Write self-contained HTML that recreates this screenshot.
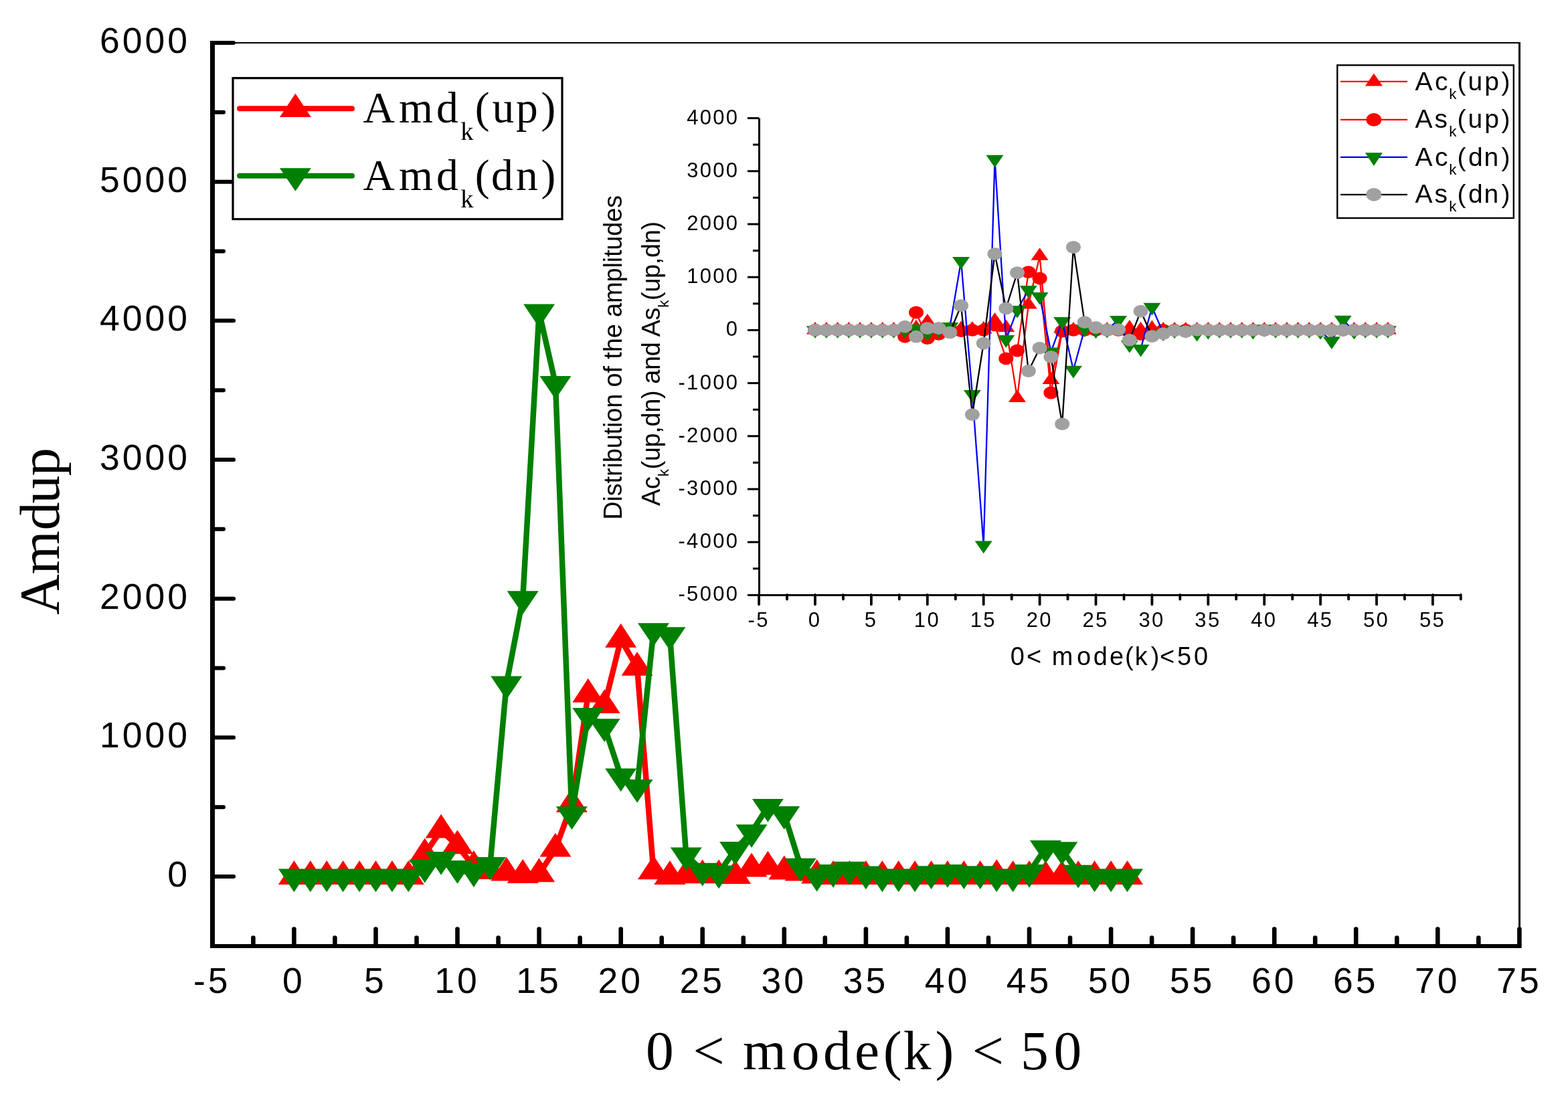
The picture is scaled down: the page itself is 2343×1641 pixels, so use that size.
<!DOCTYPE html>
<html><head><meta charset="utf-8"><title>Amdup plot</title><style>html,body{margin:0;padding:0;background:#fff;overflow:hidden}svg{display:block}</style></head><body>
<svg width="2343" height="1641" viewBox="0 0 2343 1641">
<rect width="2343" height="1641" fill="#fff"/>
<line x1="317" y1="64" x2="2271" y2="64" stroke="#000" stroke-width="2"/>
<line x1="2270.5" y1="63" x2="2270.5" y2="1414" stroke="#000" stroke-width="3"/>
<line x1="318" y1="1310.0" x2="349" y2="1310.0" stroke="#000" stroke-width="6" stroke-linecap="round"/>
<line x1="318" y1="1102.3" x2="349" y2="1102.3" stroke="#000" stroke-width="6" stroke-linecap="round"/>
<line x1="318" y1="894.7" x2="349" y2="894.7" stroke="#000" stroke-width="6" stroke-linecap="round"/>
<line x1="318" y1="687.0" x2="349" y2="687.0" stroke="#000" stroke-width="6" stroke-linecap="round"/>
<line x1="318" y1="479.3" x2="349" y2="479.3" stroke="#000" stroke-width="6" stroke-linecap="round"/>
<line x1="318" y1="271.7" x2="349" y2="271.7" stroke="#000" stroke-width="6" stroke-linecap="round"/>
<line x1="318" y1="64.0" x2="349" y2="64.0" stroke="#000" stroke-width="6" stroke-linecap="round"/>
<line x1="318" y1="1206.2" x2="334" y2="1206.2" stroke="#000" stroke-width="6" stroke-linecap="round"/>
<line x1="318" y1="998.5" x2="334" y2="998.5" stroke="#000" stroke-width="6" stroke-linecap="round"/>
<line x1="318" y1="790.8" x2="334" y2="790.8" stroke="#000" stroke-width="6" stroke-linecap="round"/>
<line x1="318" y1="583.2" x2="334" y2="583.2" stroke="#000" stroke-width="6" stroke-linecap="round"/>
<line x1="318" y1="375.5" x2="334" y2="375.5" stroke="#000" stroke-width="6" stroke-linecap="round"/>
<line x1="318" y1="167.8" x2="334" y2="167.8" stroke="#000" stroke-width="6" stroke-linecap="round"/>
<line x1="317.3" y1="1412" x2="317.3" y2="1388.5" stroke="#000" stroke-width="6.6" stroke-linecap="round"/>
<line x1="439.4" y1="1412" x2="439.4" y2="1388.5" stroke="#000" stroke-width="6.6" stroke-linecap="round"/>
<line x1="561.5" y1="1412" x2="561.5" y2="1388.5" stroke="#000" stroke-width="6.6" stroke-linecap="round"/>
<line x1="683.5" y1="1412" x2="683.5" y2="1388.5" stroke="#000" stroke-width="6.6" stroke-linecap="round"/>
<line x1="805.6" y1="1412" x2="805.6" y2="1388.5" stroke="#000" stroke-width="6.6" stroke-linecap="round"/>
<line x1="927.7" y1="1412" x2="927.7" y2="1388.5" stroke="#000" stroke-width="6.6" stroke-linecap="round"/>
<line x1="1049.7" y1="1412" x2="1049.7" y2="1388.5" stroke="#000" stroke-width="6.6" stroke-linecap="round"/>
<line x1="1171.8" y1="1412" x2="1171.8" y2="1388.5" stroke="#000" stroke-width="6.6" stroke-linecap="round"/>
<line x1="1293.9" y1="1412" x2="1293.9" y2="1388.5" stroke="#000" stroke-width="6.6" stroke-linecap="round"/>
<line x1="1415.9" y1="1412" x2="1415.9" y2="1388.5" stroke="#000" stroke-width="6.6" stroke-linecap="round"/>
<line x1="1538.0" y1="1412" x2="1538.0" y2="1388.5" stroke="#000" stroke-width="6.6" stroke-linecap="round"/>
<line x1="1660.1" y1="1412" x2="1660.1" y2="1388.5" stroke="#000" stroke-width="6.6" stroke-linecap="round"/>
<line x1="1782.1" y1="1412" x2="1782.1" y2="1388.5" stroke="#000" stroke-width="6.6" stroke-linecap="round"/>
<line x1="1904.2" y1="1412" x2="1904.2" y2="1388.5" stroke="#000" stroke-width="6.6" stroke-linecap="round"/>
<line x1="2026.2" y1="1412" x2="2026.2" y2="1388.5" stroke="#000" stroke-width="6.6" stroke-linecap="round"/>
<line x1="2148.3" y1="1412" x2="2148.3" y2="1388.5" stroke="#000" stroke-width="6.6" stroke-linecap="round"/>
<line x1="2270.4" y1="1412" x2="2270.4" y2="1388.5" stroke="#000" stroke-width="6.6" stroke-linecap="round"/>
<line x1="378.4" y1="1412" x2="378.4" y2="1401.5" stroke="#000" stroke-width="6.6" stroke-linecap="round"/>
<line x1="500.4" y1="1412" x2="500.4" y2="1401.5" stroke="#000" stroke-width="6.6" stroke-linecap="round"/>
<line x1="622.5" y1="1412" x2="622.5" y2="1401.5" stroke="#000" stroke-width="6.6" stroke-linecap="round"/>
<line x1="744.6" y1="1412" x2="744.6" y2="1401.5" stroke="#000" stroke-width="6.6" stroke-linecap="round"/>
<line x1="866.6" y1="1412" x2="866.6" y2="1401.5" stroke="#000" stroke-width="6.6" stroke-linecap="round"/>
<line x1="988.7" y1="1412" x2="988.7" y2="1401.5" stroke="#000" stroke-width="6.6" stroke-linecap="round"/>
<line x1="1110.8" y1="1412" x2="1110.8" y2="1401.5" stroke="#000" stroke-width="6.6" stroke-linecap="round"/>
<line x1="1232.8" y1="1412" x2="1232.8" y2="1401.5" stroke="#000" stroke-width="6.6" stroke-linecap="round"/>
<line x1="1354.9" y1="1412" x2="1354.9" y2="1401.5" stroke="#000" stroke-width="6.6" stroke-linecap="round"/>
<line x1="1477.0" y1="1412" x2="1477.0" y2="1401.5" stroke="#000" stroke-width="6.6" stroke-linecap="round"/>
<line x1="1599.0" y1="1412" x2="1599.0" y2="1401.5" stroke="#000" stroke-width="6.6" stroke-linecap="round"/>
<line x1="1721.1" y1="1412" x2="1721.1" y2="1401.5" stroke="#000" stroke-width="6.6" stroke-linecap="round"/>
<line x1="1843.1" y1="1412" x2="1843.1" y2="1401.5" stroke="#000" stroke-width="6.6" stroke-linecap="round"/>
<line x1="1965.2" y1="1412" x2="1965.2" y2="1401.5" stroke="#000" stroke-width="6.6" stroke-linecap="round"/>
<line x1="2087.3" y1="1412" x2="2087.3" y2="1401.5" stroke="#000" stroke-width="6.6" stroke-linecap="round"/>
<line x1="2209.3" y1="1412" x2="2209.3" y2="1401.5" stroke="#000" stroke-width="6.6" stroke-linecap="round"/>
<line x1="317.5" y1="61" x2="317.5" y2="1417" stroke="#000" stroke-width="7"/>
<line x1="314" y1="1414" x2="2273.6" y2="1414" stroke="#000" stroke-width="6"/>
<text x="284" y="1324.9" text-anchor="end" font-family="'Liberation Sans', Arial, sans-serif" font-size="53.5" letter-spacing="4">0</text>
<text x="284" y="1117.2" text-anchor="end" font-family="'Liberation Sans', Arial, sans-serif" font-size="53.5" letter-spacing="4">1000</text>
<text x="284" y="909.6" text-anchor="end" font-family="'Liberation Sans', Arial, sans-serif" font-size="53.5" letter-spacing="4">2000</text>
<text x="284" y="701.9" text-anchor="end" font-family="'Liberation Sans', Arial, sans-serif" font-size="53.5" letter-spacing="4">3000</text>
<text x="284" y="494.2" text-anchor="end" font-family="'Liberation Sans', Arial, sans-serif" font-size="53.5" letter-spacing="4">4000</text>
<text x="284" y="286.6" text-anchor="end" font-family="'Liberation Sans', Arial, sans-serif" font-size="53.5" letter-spacing="4">5000</text>
<text x="284" y="78.9" text-anchor="end" font-family="'Liberation Sans', Arial, sans-serif" font-size="53.5" letter-spacing="4">6000</text>
<text x="316.8" y="1484" text-anchor="middle" font-family="'Liberation Sans', Arial, sans-serif" font-size="53.5" letter-spacing="4">-5</text>
<text x="438.9" y="1484" text-anchor="middle" font-family="'Liberation Sans', Arial, sans-serif" font-size="53.5" letter-spacing="4">0</text>
<text x="561.0" y="1484" text-anchor="middle" font-family="'Liberation Sans', Arial, sans-serif" font-size="53.5" letter-spacing="4">5</text>
<text x="683.0" y="1484" text-anchor="middle" font-family="'Liberation Sans', Arial, sans-serif" font-size="53.5" letter-spacing="4">10</text>
<text x="805.1" y="1484" text-anchor="middle" font-family="'Liberation Sans', Arial, sans-serif" font-size="53.5" letter-spacing="4">15</text>
<text x="927.2" y="1484" text-anchor="middle" font-family="'Liberation Sans', Arial, sans-serif" font-size="53.5" letter-spacing="4">20</text>
<text x="1049.2" y="1484" text-anchor="middle" font-family="'Liberation Sans', Arial, sans-serif" font-size="53.5" letter-spacing="4">25</text>
<text x="1171.3" y="1484" text-anchor="middle" font-family="'Liberation Sans', Arial, sans-serif" font-size="53.5" letter-spacing="4">30</text>
<text x="1293.4" y="1484" text-anchor="middle" font-family="'Liberation Sans', Arial, sans-serif" font-size="53.5" letter-spacing="4">35</text>
<text x="1415.4" y="1484" text-anchor="middle" font-family="'Liberation Sans', Arial, sans-serif" font-size="53.5" letter-spacing="4">40</text>
<text x="1537.5" y="1484" text-anchor="middle" font-family="'Liberation Sans', Arial, sans-serif" font-size="53.5" letter-spacing="4">45</text>
<text x="1659.6" y="1484" text-anchor="middle" font-family="'Liberation Sans', Arial, sans-serif" font-size="53.5" letter-spacing="4">50</text>
<text x="1781.6" y="1484" text-anchor="middle" font-family="'Liberation Sans', Arial, sans-serif" font-size="53.5" letter-spacing="4">55</text>
<text x="1903.7" y="1484" text-anchor="middle" font-family="'Liberation Sans', Arial, sans-serif" font-size="53.5" letter-spacing="4">60</text>
<text x="2025.7" y="1484" text-anchor="middle" font-family="'Liberation Sans', Arial, sans-serif" font-size="53.5" letter-spacing="4">65</text>
<text x="2147.8" y="1484" text-anchor="middle" font-family="'Liberation Sans', Arial, sans-serif" font-size="53.5" letter-spacing="4">70</text>
<text x="2269.9" y="1484" text-anchor="middle" font-family="'Liberation Sans', Arial, sans-serif" font-size="53.5" letter-spacing="4">75</text>
<text x="965.1 1006.9 1035.4 1082.5 1110.0 1182.8 1229.9 1276.9 1319.7 1349.7 1397.6 1425.4 1452.7 1499.8 1525.1 1574.5" y="1598.2" font-family="'Liberation Serif', 'Times New Roman', serif" font-size="83.5">0 &lt; mode(k) &lt; 50</text>
<text transform="translate(88.3,916.3) rotate(-90)" x="-2.4 57.7 123.7 163.9 205.0" y="0" font-family="'Liberation Serif', 'Times New Roman', serif" font-size="84">Amdup</text>
<polyline points="439.4,1310.0 463.8,1310.0 488.2,1310.0 512.6,1310.0 537.1,1310.0 561.5,1310.0 585.9,1310.0 610.3,1310.0 634.7,1276.6 659.1,1240.6 683.5,1264.3 707.9,1294.8 732.4,1301.9 756.8,1304.6 781.2,1307.9 805.6,1306.3 830.0,1268.7 854.4,1202.0 878.8,1037.7 903.2,1054.2 927.7,955.7 952.1,997.9 976.5,1302.3 1000.9,1310.0 1025.3,1308.3 1049.7,1308.3 1074.1,1308.3 1098.6,1309.0 1123.0,1298.6 1147.4,1295.7 1171.8,1302.5 1196.2,1304.6 1220.6,1308.5 1245.0,1310.0 1269.4,1310.0 1293.9,1310.0 1318.3,1310.0 1342.7,1310.0 1367.1,1310.0 1391.5,1310.0 1415.9,1310.0 1440.3,1310.0 1464.7,1310.0 1489.2,1308.1 1513.6,1310.0 1538.0,1310.0 1562.4,1310.0 1586.8,1310.0 1611.2,1310.0 1635.6,1310.0 1660.1,1310.0 1684.5,1310.0" fill="none" stroke="#ff0000" stroke-width="8.5" stroke-linejoin="round"/>
<path fill="#ff0000" d="M439.4,1286.1L462.9,1322.0L415.9,1322.0ZM463.8,1286.1L487.3,1322.0L440.3,1322.0ZM488.2,1286.1L511.7,1322.0L464.7,1322.0ZM512.6,1286.1L536.1,1322.0L489.1,1322.0ZM537.1,1286.1L560.6,1322.0L513.6,1322.0ZM561.5,1286.1L585.0,1322.0L538.0,1322.0ZM585.9,1286.1L609.4,1322.0L562.4,1322.0ZM610.3,1286.1L633.8,1322.0L586.8,1322.0ZM634.7,1252.6L658.2,1288.5L611.2,1288.5ZM659.1,1216.7L682.6,1252.6L635.6,1252.6ZM683.5,1240.4L707.0,1276.3L660.0,1276.3ZM707.9,1270.9L731.4,1306.8L684.4,1306.8ZM732.4,1278.0L755.9,1313.9L708.9,1313.9ZM756.8,1280.7L780.3,1316.6L733.3,1316.6ZM781.2,1284.0L804.7,1319.9L757.7,1319.9ZM805.6,1282.3L829.1,1318.2L782.1,1318.2ZM830.0,1244.7L853.5,1280.6L806.5,1280.6ZM854.4,1178.1L877.9,1214.0L830.9,1214.0ZM878.8,1013.8L902.3,1049.7L855.3,1049.7ZM903.2,1030.2L926.7,1066.1L879.7,1066.1ZM927.7,931.8L951.2,967.7L904.2,967.7ZM952.1,973.9L975.6,1009.8L928.6,1009.8ZM976.5,1278.4L1000.0,1314.3L953.0,1314.3ZM1000.9,1286.1L1024.4,1322.0L977.4,1322.0ZM1025.3,1284.4L1048.8,1320.3L1001.8,1320.3ZM1049.7,1284.4L1073.2,1320.3L1026.2,1320.3ZM1074.1,1284.4L1097.6,1320.3L1050.6,1320.3ZM1098.6,1285.0L1122.1,1320.9L1075.1,1320.9ZM1123.0,1274.6L1146.5,1310.5L1099.5,1310.5ZM1147.4,1271.7L1170.9,1307.6L1123.9,1307.6ZM1171.8,1278.6L1195.3,1314.5L1148.3,1314.5ZM1196.2,1280.7L1219.7,1316.6L1172.7,1316.6ZM1220.6,1284.6L1244.1,1320.5L1197.1,1320.5ZM1245.0,1286.1L1268.5,1322.0L1221.5,1322.0ZM1269.4,1286.1L1292.9,1322.0L1245.9,1322.0ZM1293.9,1286.1L1317.4,1322.0L1270.4,1322.0ZM1318.3,1286.1L1341.8,1322.0L1294.8,1322.0ZM1342.7,1286.1L1366.2,1322.0L1319.2,1322.0ZM1367.1,1286.1L1390.6,1322.0L1343.6,1322.0ZM1391.5,1286.1L1415.0,1322.0L1368.0,1322.0ZM1415.9,1286.1L1439.4,1322.0L1392.4,1322.0ZM1440.3,1286.1L1463.8,1322.0L1416.8,1322.0ZM1464.7,1286.1L1488.2,1322.0L1441.2,1322.0ZM1489.2,1284.2L1512.7,1320.1L1465.7,1320.1ZM1513.6,1286.1L1537.1,1322.0L1490.1,1322.0ZM1538.0,1286.1L1561.5,1322.0L1514.5,1322.0ZM1562.4,1286.1L1585.9,1322.0L1538.9,1322.0ZM1586.8,1286.1L1610.3,1322.0L1563.3,1322.0ZM1611.2,1286.1L1634.7,1322.0L1587.7,1322.0ZM1635.6,1286.1L1659.1,1322.0L1612.1,1322.0ZM1660.1,1286.1L1683.6,1322.0L1636.6,1322.0ZM1684.5,1286.1L1708.0,1322.0L1661.0,1322.0Z"/>
<polyline points="439.4,1310.0 463.8,1310.0 488.2,1310.0 512.6,1310.0 537.1,1310.0 561.5,1310.0 585.9,1310.0 610.3,1310.0 634.7,1296.3 659.1,1284.5 683.5,1297.5 707.9,1302.7 732.4,1292.6 756.8,1022.2 781.2,894.9 805.6,466.2 830.0,573.6 854.4,1216.8 878.8,1069.7 903.2,1085.9 927.7,1160.1 952.1,1176.5 976.5,942.8 1000.9,948.9 1025.3,1278.0 1049.7,1301.3 1074.1,1305.0 1098.6,1269.7 1123.0,1243.8 1147.4,1205.5 1171.8,1216.5 1196.2,1294.4 1220.6,1309.4 1245.0,1303.6 1269.4,1299.4 1293.9,1306.1 1318.3,1310.0 1342.7,1310.0 1367.1,1310.0 1391.5,1305.8 1415.9,1303.6 1440.3,1305.8 1464.7,1305.8 1489.2,1310.0 1513.6,1310.0 1538.0,1303.6 1562.4,1267.6 1586.8,1269.9 1611.2,1304.4 1635.6,1310.0 1660.1,1310.0 1684.5,1310.0" fill="none" stroke="#008000" stroke-width="8.5" stroke-linejoin="round"/>
<path fill="#008000" d="M415.9,1298.4L462.9,1298.4L439.4,1333.2ZM440.3,1298.4L487.3,1298.4L463.8,1333.2ZM464.7,1298.4L511.7,1298.4L488.2,1333.2ZM489.1,1298.4L536.1,1298.4L512.6,1333.2ZM513.6,1298.4L560.6,1298.4L537.1,1333.2ZM538.0,1298.4L585.0,1298.4L561.5,1333.2ZM562.4,1298.4L609.4,1298.4L585.9,1333.2ZM586.8,1298.4L633.8,1298.4L610.3,1333.2ZM611.2,1284.7L658.2,1284.7L634.7,1319.5ZM635.6,1272.9L682.6,1272.9L659.1,1307.7ZM660.0,1285.9L707.0,1285.9L683.5,1320.7ZM684.4,1291.1L731.4,1291.1L707.9,1325.9ZM708.9,1281.0L755.9,1281.0L732.4,1315.8ZM733.3,1010.6L780.3,1010.6L756.8,1045.4ZM757.7,883.3L804.7,883.3L781.2,918.1ZM782.1,454.6L829.1,454.6L805.6,489.4ZM806.5,562.0L853.5,562.0L830.0,596.8ZM830.9,1205.2L877.9,1205.2L854.4,1240.0ZM855.3,1058.1L902.3,1058.1L878.8,1092.9ZM879.7,1074.3L926.7,1074.3L903.2,1109.1ZM904.2,1148.5L951.2,1148.5L927.7,1183.3ZM928.6,1164.9L975.6,1164.9L952.1,1199.7ZM953.0,931.2L1000.0,931.2L976.5,966.0ZM977.4,937.3L1024.4,937.3L1000.9,972.1ZM1001.8,1266.4L1048.8,1266.4L1025.3,1301.2ZM1026.2,1289.7L1073.2,1289.7L1049.7,1324.5ZM1050.6,1293.4L1097.6,1293.4L1074.1,1328.2ZM1075.1,1258.1L1122.1,1258.1L1098.6,1292.9ZM1099.5,1232.2L1146.5,1232.2L1123.0,1267.0ZM1123.9,1193.9L1170.9,1193.9L1147.4,1228.7ZM1148.3,1204.9L1195.3,1204.9L1171.8,1239.7ZM1172.7,1282.8L1219.7,1282.8L1196.2,1317.6ZM1197.1,1297.8L1244.1,1297.8L1220.6,1332.6ZM1221.5,1292.0L1268.5,1292.0L1245.0,1326.8ZM1245.9,1287.8L1292.9,1287.8L1269.4,1322.6ZM1270.4,1294.5L1317.4,1294.5L1293.9,1329.3ZM1294.8,1298.4L1341.8,1298.4L1318.3,1333.2ZM1319.2,1298.4L1366.2,1298.4L1342.7,1333.2ZM1343.6,1298.4L1390.6,1298.4L1367.1,1333.2ZM1368.0,1294.2L1415.0,1294.2L1391.5,1329.0ZM1392.4,1292.0L1439.4,1292.0L1415.9,1326.8ZM1416.8,1294.2L1463.8,1294.2L1440.3,1329.0ZM1441.2,1294.2L1488.2,1294.2L1464.7,1329.0ZM1465.7,1298.4L1512.7,1298.4L1489.2,1333.2ZM1490.1,1298.4L1537.1,1298.4L1513.6,1333.2ZM1514.5,1292.0L1561.5,1292.0L1538.0,1326.8ZM1538.9,1256.0L1585.9,1256.0L1562.4,1290.8ZM1563.3,1258.3L1610.3,1258.3L1586.8,1293.1ZM1587.7,1292.8L1634.7,1292.8L1611.2,1327.6ZM1612.1,1298.4L1659.1,1298.4L1635.6,1333.2ZM1636.6,1298.4L1683.6,1298.4L1660.1,1333.2ZM1661.0,1298.4L1708.0,1298.4L1684.5,1333.2Z"/>
<rect x="348" y="116.7" width="492" height="210.8" fill="#fff" stroke="#000" stroke-width="3.2"/>
<line x1="358" y1="162.3" x2="526" y2="162.3" stroke="#ff0000" stroke-width="8" stroke-linecap="round"/>
<path fill="#ff0000" d="M441.4,139.7L464.9,175.0L417.9,175.0Z"/>
<line x1="358" y1="262.7" x2="526" y2="262.7" stroke="#008000" stroke-width="8" stroke-linecap="round"/>
<path fill="#008000" d="M417.9,251.2L464.9,251.2L441.4,285.8Z"/>
<text y="183.3" font-family="'Liberation Serif', 'Times New Roman', serif" font-size="65.5"><tspan x="542.6 595.9 652.1">Amd</tspan><tspan x="688.3" y="209.0" font-size="38.5">k</tspan><tspan x="709.7 735.4 771.1 808.6" y="183.3">(up)</tspan></text>
<text y="283.8" font-family="'Liberation Serif', 'Times New Roman', serif" font-size="65.5"><tspan x="542.6 595.9 652.1">Amd</tspan><tspan x="688.3" y="309.5" font-size="38.5">k</tspan><tspan x="709.7 734.1 770.9 808.6" y="283.8">(dn)</tspan></text>
<line x1="1117" y1="889.4" x2="1134" y2="889.4" stroke="#000" stroke-width="3"/>
<line x1="1117" y1="810.2" x2="1134" y2="810.2" stroke="#000" stroke-width="3"/>
<line x1="1117" y1="731.0" x2="1134" y2="731.0" stroke="#000" stroke-width="3"/>
<line x1="1117" y1="651.8" x2="1134" y2="651.8" stroke="#000" stroke-width="3"/>
<line x1="1117" y1="572.6" x2="1134" y2="572.6" stroke="#000" stroke-width="3"/>
<line x1="1117" y1="493.4" x2="1134" y2="493.4" stroke="#000" stroke-width="3"/>
<line x1="1117" y1="414.2" x2="1134" y2="414.2" stroke="#000" stroke-width="3"/>
<line x1="1117" y1="335.0" x2="1134" y2="335.0" stroke="#000" stroke-width="3"/>
<line x1="1117" y1="255.8" x2="1134" y2="255.8" stroke="#000" stroke-width="3"/>
<line x1="1117" y1="176.6" x2="1134" y2="176.6" stroke="#000" stroke-width="3"/>
<line x1="1125" y1="849.8" x2="1134" y2="849.8" stroke="#000" stroke-width="3"/>
<line x1="1125" y1="770.6" x2="1134" y2="770.6" stroke="#000" stroke-width="3"/>
<line x1="1125" y1="691.4" x2="1134" y2="691.4" stroke="#000" stroke-width="3"/>
<line x1="1125" y1="612.2" x2="1134" y2="612.2" stroke="#000" stroke-width="3"/>
<line x1="1125" y1="533.0" x2="1134" y2="533.0" stroke="#000" stroke-width="3"/>
<line x1="1125" y1="453.8" x2="1134" y2="453.8" stroke="#000" stroke-width="3"/>
<line x1="1125" y1="374.6" x2="1134" y2="374.6" stroke="#000" stroke-width="3"/>
<line x1="1125" y1="295.4" x2="1134" y2="295.4" stroke="#000" stroke-width="3"/>
<line x1="1125" y1="216.2" x2="1134" y2="216.2" stroke="#000" stroke-width="3"/>
<line x1="1134.1" y1="889" x2="1134.1" y2="903.3" stroke="#000" stroke-width="3.8" stroke-linecap="round"/>
<line x1="1218.0" y1="889" x2="1218.0" y2="903.3" stroke="#000" stroke-width="3.8" stroke-linecap="round"/>
<line x1="1301.9" y1="889" x2="1301.9" y2="903.3" stroke="#000" stroke-width="3.8" stroke-linecap="round"/>
<line x1="1385.8" y1="889" x2="1385.8" y2="903.3" stroke="#000" stroke-width="3.8" stroke-linecap="round"/>
<line x1="1469.7" y1="889" x2="1469.7" y2="903.3" stroke="#000" stroke-width="3.8" stroke-linecap="round"/>
<line x1="1553.6" y1="889" x2="1553.6" y2="903.3" stroke="#000" stroke-width="3.8" stroke-linecap="round"/>
<line x1="1637.5" y1="889" x2="1637.5" y2="903.3" stroke="#000" stroke-width="3.8" stroke-linecap="round"/>
<line x1="1721.4" y1="889" x2="1721.4" y2="903.3" stroke="#000" stroke-width="3.8" stroke-linecap="round"/>
<line x1="1805.3" y1="889" x2="1805.3" y2="903.3" stroke="#000" stroke-width="3.8" stroke-linecap="round"/>
<line x1="1889.2" y1="889" x2="1889.2" y2="903.3" stroke="#000" stroke-width="3.8" stroke-linecap="round"/>
<line x1="1973.1" y1="889" x2="1973.1" y2="903.3" stroke="#000" stroke-width="3.8" stroke-linecap="round"/>
<line x1="2057.0" y1="889" x2="2057.0" y2="903.3" stroke="#000" stroke-width="3.8" stroke-linecap="round"/>
<line x1="2140.9" y1="889" x2="2140.9" y2="903.3" stroke="#000" stroke-width="3.8" stroke-linecap="round"/>
<line x1="1176.0" y1="889" x2="1176.0" y2="895.5" stroke="#000" stroke-width="3.8" stroke-linecap="round"/>
<line x1="1260.0" y1="889" x2="1260.0" y2="895.5" stroke="#000" stroke-width="3.8" stroke-linecap="round"/>
<line x1="1343.8" y1="889" x2="1343.8" y2="895.5" stroke="#000" stroke-width="3.8" stroke-linecap="round"/>
<line x1="1427.8" y1="889" x2="1427.8" y2="895.5" stroke="#000" stroke-width="3.8" stroke-linecap="round"/>
<line x1="1511.7" y1="889" x2="1511.7" y2="895.5" stroke="#000" stroke-width="3.8" stroke-linecap="round"/>
<line x1="1595.5" y1="889" x2="1595.5" y2="895.5" stroke="#000" stroke-width="3.8" stroke-linecap="round"/>
<line x1="1679.5" y1="889" x2="1679.5" y2="895.5" stroke="#000" stroke-width="3.8" stroke-linecap="round"/>
<line x1="1763.3" y1="889" x2="1763.3" y2="895.5" stroke="#000" stroke-width="3.8" stroke-linecap="round"/>
<line x1="1847.2" y1="889" x2="1847.2" y2="895.5" stroke="#000" stroke-width="3.8" stroke-linecap="round"/>
<line x1="1931.2" y1="889" x2="1931.2" y2="895.5" stroke="#000" stroke-width="3.8" stroke-linecap="round"/>
<line x1="2015.1" y1="889" x2="2015.1" y2="895.5" stroke="#000" stroke-width="3.8" stroke-linecap="round"/>
<line x1="2098.9" y1="889" x2="2098.9" y2="895.5" stroke="#000" stroke-width="3.8" stroke-linecap="round"/>
<line x1="2182.8" y1="889" x2="2182.8" y2="895.5" stroke="#000" stroke-width="3.8" stroke-linecap="round"/>
<line x1="1134.5" y1="176.6" x2="1134.5" y2="891" stroke="#000" stroke-width="3"/>
<line x1="1133" y1="889.5" x2="2183.8" y2="889.6" stroke="#000" stroke-width="3"/>
<text x="1104.3" y="898.4" text-anchor="end" font-family="'Liberation Sans', Arial, sans-serif" font-size="31" letter-spacing="2.3">-5000</text>
<text x="1104.3" y="819.2" text-anchor="end" font-family="'Liberation Sans', Arial, sans-serif" font-size="31" letter-spacing="2.3">-4000</text>
<text x="1104.3" y="740.0" text-anchor="end" font-family="'Liberation Sans', Arial, sans-serif" font-size="31" letter-spacing="2.3">-3000</text>
<text x="1104.3" y="660.8" text-anchor="end" font-family="'Liberation Sans', Arial, sans-serif" font-size="31" letter-spacing="2.3">-2000</text>
<text x="1104.3" y="581.6" text-anchor="end" font-family="'Liberation Sans', Arial, sans-serif" font-size="31" letter-spacing="2.3">-1000</text>
<text x="1104.3" y="502.4" text-anchor="end" font-family="'Liberation Sans', Arial, sans-serif" font-size="31" letter-spacing="2.3">0</text>
<text x="1104.3" y="423.2" text-anchor="end" font-family="'Liberation Sans', Arial, sans-serif" font-size="31" letter-spacing="2.3">1000</text>
<text x="1104.3" y="344.0" text-anchor="end" font-family="'Liberation Sans', Arial, sans-serif" font-size="31" letter-spacing="2.3">2000</text>
<text x="1104.3" y="264.8" text-anchor="end" font-family="'Liberation Sans', Arial, sans-serif" font-size="31" letter-spacing="2.3">3000</text>
<text x="1104.3" y="185.6" text-anchor="end" font-family="'Liberation Sans', Arial, sans-serif" font-size="31" letter-spacing="2.3">4000</text>
<text x="1133.7" y="936.5" text-anchor="middle" font-family="'Liberation Sans', Arial, sans-serif" font-size="31" letter-spacing="2.3">-5</text>
<text x="1217.6" y="936.5" text-anchor="middle" font-family="'Liberation Sans', Arial, sans-serif" font-size="31" letter-spacing="2.3">0</text>
<text x="1301.5" y="936.5" text-anchor="middle" font-family="'Liberation Sans', Arial, sans-serif" font-size="31" letter-spacing="2.3">5</text>
<text x="1385.4" y="936.5" text-anchor="middle" font-family="'Liberation Sans', Arial, sans-serif" font-size="31" letter-spacing="2.3">10</text>
<text x="1469.3" y="936.5" text-anchor="middle" font-family="'Liberation Sans', Arial, sans-serif" font-size="31" letter-spacing="2.3">15</text>
<text x="1553.2" y="936.5" text-anchor="middle" font-family="'Liberation Sans', Arial, sans-serif" font-size="31" letter-spacing="2.3">20</text>
<text x="1637.1" y="936.5" text-anchor="middle" font-family="'Liberation Sans', Arial, sans-serif" font-size="31" letter-spacing="2.3">25</text>
<text x="1721.0" y="936.5" text-anchor="middle" font-family="'Liberation Sans', Arial, sans-serif" font-size="31" letter-spacing="2.3">30</text>
<text x="1804.9" y="936.5" text-anchor="middle" font-family="'Liberation Sans', Arial, sans-serif" font-size="31" letter-spacing="2.3">35</text>
<text x="1888.8" y="936.5" text-anchor="middle" font-family="'Liberation Sans', Arial, sans-serif" font-size="31" letter-spacing="2.3">40</text>
<text x="1972.7" y="936.5" text-anchor="middle" font-family="'Liberation Sans', Arial, sans-serif" font-size="31" letter-spacing="2.3">45</text>
<text x="2056.6" y="936.5" text-anchor="middle" font-family="'Liberation Sans', Arial, sans-serif" font-size="31" letter-spacing="2.3">50</text>
<text x="2140.5" y="936.5" text-anchor="middle" font-family="'Liberation Sans', Arial, sans-serif" font-size="31" letter-spacing="2.3">55</text>
<text x="1509.8 1533.9 1556.0 1571.8 1609.0 1633.7 1658.1 1680.9 1695.7 1719.8 1733.1 1759.0 1784.1" y="994.3" font-family="'Liberation Sans', Arial, sans-serif" font-size="37.9">0&lt; mode(k)&lt;50</text>
<text transform="translate(928.9,773.7) rotate(-90)" x="-3.1" y="0" font-family="'Liberation Sans', Arial, sans-serif" font-size="38" textLength="485" lengthAdjust="spacing">Distribution of the amplitudes</text>
<text transform="translate(986.1,755.9) rotate(-90)" x="0" y="0" font-family="'Liberation Sans', Arial, sans-serif" font-size="38" textLength="425" lengthAdjust="spacing">Ac<tspan font-size="22.5" dy="13">k</tspan><tspan dy="-13">(up,dn) and As</tspan><tspan font-size="22.5" dy="13">k</tspan><tspan dy="-13">(up,dn)</tspan></text>
<polyline points="1218.0,493.4 1234.8,493.4 1251.6,493.4 1268.3,493.4 1285.1,493.4 1301.9,493.4 1318.7,493.4 1335.5,493.4 1352.2,491.8 1369.0,490.2 1385.8,481.2 1402.6,493.0 1419.4,492.6 1436.1,491.8 1452.9,492.4 1469.7,492.2 1486.5,479.5 1503.3,489.8 1520.0,594.9 1536.8,455.4 1553.6,382.6 1570.4,567.8 1587.2,491.0 1603.9,493.4 1620.7,493.4 1637.5,493.4 1654.3,493.4 1671.1,493.4 1687.8,490.5 1704.6,493.1 1721.4,491.0 1738.2,493.4 1755.0,493.4 1771.7,493.4 1788.5,493.4 1805.3,493.4 1822.1,493.4 1838.9,493.4 1855.6,493.4 1872.4,493.4 1889.2,493.4 1906.0,493.4 1922.8,493.4 1939.5,493.4 1956.3,493.4 1973.1,493.4 1989.9,493.4 2006.7,493.4 2023.4,493.4 2040.2,493.4 2057.0,493.4 2073.8,493.4" fill="none" stroke="#ff0000" stroke-width="2.3"/>
<path fill="#ff0000" d="M1218.0,481.0L1231.0,499.6L1205.0,499.6ZM1234.8,481.0L1247.8,499.6L1221.8,499.6ZM1251.6,481.0L1264.6,499.6L1238.6,499.6ZM1268.3,481.0L1281.3,499.6L1255.3,499.6ZM1285.1,481.0L1298.1,499.6L1272.1,499.6ZM1301.9,481.0L1314.9,499.6L1288.9,499.6ZM1318.7,481.0L1331.7,499.6L1305.7,499.6ZM1335.5,481.0L1348.5,499.6L1322.5,499.6ZM1352.2,479.4L1365.2,498.0L1339.2,498.0ZM1369.0,477.8L1382.0,496.4L1356.0,496.4ZM1385.8,468.8L1398.8,487.4L1372.8,487.4ZM1402.6,480.6L1415.6,499.2L1389.6,499.2ZM1419.4,480.2L1432.4,498.8L1406.4,498.8ZM1436.1,479.4L1449.1,498.0L1423.1,498.0ZM1452.9,480.0L1465.9,498.6L1439.9,498.6ZM1469.7,479.8L1482.7,498.4L1456.7,498.4ZM1486.5,467.1L1499.5,485.7L1473.5,485.7ZM1503.3,477.4L1516.3,496.0L1490.3,496.0ZM1520.0,582.5L1533.0,601.1L1507.0,601.1ZM1536.8,443.0L1549.8,461.6L1523.8,461.6ZM1553.6,370.2L1566.6,388.8L1540.6,388.8ZM1570.4,555.4L1583.4,574.0L1557.4,574.0ZM1587.2,478.6L1600.2,497.2L1574.2,497.2ZM1603.9,481.0L1616.9,499.6L1590.9,499.6ZM1620.7,481.0L1633.7,499.6L1607.7,499.6ZM1637.5,481.0L1650.5,499.6L1624.5,499.6ZM1654.3,481.0L1667.3,499.6L1641.3,499.6ZM1671.1,481.0L1684.1,499.6L1658.1,499.6ZM1687.8,478.1L1700.8,496.7L1674.8,496.7ZM1704.6,480.7L1717.6,499.3L1691.6,499.3ZM1721.4,478.6L1734.4,497.2L1708.4,497.2ZM1738.2,481.0L1751.2,499.6L1725.2,499.6ZM1755.0,481.0L1768.0,499.6L1742.0,499.6ZM1771.7,481.0L1784.7,499.6L1758.7,499.6ZM1788.5,481.0L1801.5,499.6L1775.5,499.6ZM1805.3,481.0L1818.3,499.6L1792.3,499.6ZM1822.1,481.0L1835.1,499.6L1809.1,499.6ZM1838.9,481.0L1851.9,499.6L1825.9,499.6ZM1855.6,481.0L1868.6,499.6L1842.6,499.6ZM1872.4,481.0L1885.4,499.6L1859.4,499.6ZM1889.2,481.0L1902.2,499.6L1876.2,499.6ZM1906.0,481.0L1919.0,499.6L1893.0,499.6ZM1922.8,481.0L1935.8,499.6L1909.8,499.6ZM1939.5,481.0L1952.5,499.6L1926.5,499.6ZM1956.3,481.0L1969.3,499.6L1943.3,499.6ZM1973.1,481.0L1986.1,499.6L1960.1,499.6ZM1989.9,481.0L2002.9,499.6L1976.9,499.6ZM2006.7,481.0L2019.7,499.6L1993.7,499.6ZM2023.4,481.0L2036.4,499.6L2010.4,499.6ZM2040.2,481.0L2053.2,499.6L2027.2,499.6ZM2057.0,481.0L2070.0,499.6L2044.0,499.6ZM2073.8,481.0L2086.8,499.6L2060.8,499.6Z"/>
<polyline points="1218.0,493.4 1234.8,493.4 1251.6,493.4 1268.3,493.4 1285.1,493.4 1301.9,493.4 1318.7,493.4 1335.5,493.4 1352.2,503.1 1369.0,467.0 1385.8,505.7 1402.6,499.3 1419.4,496.7 1436.1,494.6 1452.9,493.4 1469.7,493.4 1486.5,485.9 1503.3,535.9 1520.0,524.0 1536.8,406.7 1553.6,416.0 1570.4,587.0 1587.2,495.0 1603.9,493.4 1620.7,493.4 1637.5,493.4 1654.3,493.4 1671.1,493.4 1687.8,496.6 1704.6,499.6 1721.4,495.0 1738.2,493.4 1755.0,493.4 1771.7,493.4 1788.5,493.4 1805.3,493.4 1822.1,493.4 1838.9,493.4 1855.6,493.4 1872.4,493.4 1889.2,493.4 1906.0,493.4 1922.8,493.4 1939.5,493.4 1956.3,493.4 1973.1,493.4 1989.9,493.4 2006.7,493.4 2023.4,493.4 2040.2,493.4 2057.0,493.4 2073.8,493.4" fill="none" stroke="#ff0000" stroke-width="2.3"/>
<g fill="#ff0000"><ellipse cx="1218.0" cy="493.4" rx="11" ry="9.4"/><ellipse cx="1234.8" cy="493.4" rx="11" ry="9.4"/><ellipse cx="1251.6" cy="493.4" rx="11" ry="9.4"/><ellipse cx="1268.3" cy="493.4" rx="11" ry="9.4"/><ellipse cx="1285.1" cy="493.4" rx="11" ry="9.4"/><ellipse cx="1301.9" cy="493.4" rx="11" ry="9.4"/><ellipse cx="1318.7" cy="493.4" rx="11" ry="9.4"/><ellipse cx="1335.5" cy="493.4" rx="11" ry="9.4"/><ellipse cx="1352.2" cy="503.1" rx="11" ry="9.4"/><ellipse cx="1369.0" cy="467.0" rx="11" ry="9.4"/><ellipse cx="1385.8" cy="505.7" rx="11" ry="9.4"/><ellipse cx="1402.6" cy="499.3" rx="11" ry="9.4"/><ellipse cx="1419.4" cy="496.7" rx="11" ry="9.4"/><ellipse cx="1436.1" cy="494.6" rx="11" ry="9.4"/><ellipse cx="1452.9" cy="493.4" rx="11" ry="9.4"/><ellipse cx="1469.7" cy="493.4" rx="11" ry="9.4"/><ellipse cx="1486.5" cy="485.9" rx="11" ry="9.4"/><ellipse cx="1503.3" cy="535.9" rx="11" ry="9.4"/><ellipse cx="1520.0" cy="524.0" rx="11" ry="9.4"/><ellipse cx="1536.8" cy="406.7" rx="11" ry="9.4"/><ellipse cx="1553.6" cy="416.0" rx="11" ry="9.4"/><ellipse cx="1570.4" cy="587.0" rx="11" ry="9.4"/><ellipse cx="1587.2" cy="495.0" rx="11" ry="9.4"/><ellipse cx="1603.9" cy="493.4" rx="11" ry="9.4"/><ellipse cx="1620.7" cy="493.4" rx="11" ry="9.4"/><ellipse cx="1637.5" cy="493.4" rx="11" ry="9.4"/><ellipse cx="1654.3" cy="493.4" rx="11" ry="9.4"/><ellipse cx="1671.1" cy="493.4" rx="11" ry="9.4"/><ellipse cx="1687.8" cy="496.6" rx="11" ry="9.4"/><ellipse cx="1704.6" cy="499.6" rx="11" ry="9.4"/><ellipse cx="1721.4" cy="495.0" rx="11" ry="9.4"/><ellipse cx="1738.2" cy="493.4" rx="11" ry="9.4"/><ellipse cx="1755.0" cy="493.4" rx="11" ry="9.4"/><ellipse cx="1771.7" cy="493.4" rx="11" ry="9.4"/><ellipse cx="1788.5" cy="493.4" rx="11" ry="9.4"/><ellipse cx="1805.3" cy="493.4" rx="11" ry="9.4"/><ellipse cx="1822.1" cy="493.4" rx="11" ry="9.4"/><ellipse cx="1838.9" cy="493.4" rx="11" ry="9.4"/><ellipse cx="1855.6" cy="493.4" rx="11" ry="9.4"/><ellipse cx="1872.4" cy="493.4" rx="11" ry="9.4"/><ellipse cx="1889.2" cy="493.4" rx="11" ry="9.4"/><ellipse cx="1906.0" cy="493.4" rx="11" ry="9.4"/><ellipse cx="1922.8" cy="493.4" rx="11" ry="9.4"/><ellipse cx="1939.5" cy="493.4" rx="11" ry="9.4"/><ellipse cx="1956.3" cy="493.4" rx="11" ry="9.4"/><ellipse cx="1973.1" cy="493.4" rx="11" ry="9.4"/><ellipse cx="1989.9" cy="493.4" rx="11" ry="9.4"/><ellipse cx="2006.7" cy="493.4" rx="11" ry="9.4"/><ellipse cx="2023.4" cy="493.4" rx="11" ry="9.4"/><ellipse cx="2040.2" cy="493.4" rx="11" ry="9.4"/><ellipse cx="2057.0" cy="493.4" rx="11" ry="9.4"/><ellipse cx="2073.8" cy="493.4" rx="11" ry="9.4"/></g>
<polyline points="1218.0,493.4 1234.8,493.4 1251.6,493.4 1268.3,493.4 1285.1,493.4 1301.9,493.4 1318.7,493.4 1335.5,493.4 1352.2,493.3 1369.0,491.2 1385.8,497.7 1402.6,492.7 1419.4,488.1 1436.1,390.2 1452.9,589.2 1469.7,814.8 1486.5,238.0 1503.3,507.3 1520.0,463.1 1536.8,433.3 1553.6,443.2 1570.4,525.8 1587.2,480.1 1603.9,553.0 1620.7,491.6 1637.5,493.8 1654.3,492.9 1671.1,478.2 1687.8,515.1 1704.6,521.2 1721.4,459.0 1738.2,497.7 1755.0,493.8 1771.7,493.4 1788.5,498.1 1805.3,495.0 1822.1,493.4 1838.9,493.4 1855.6,493.4 1872.4,495.0 1889.2,491.4 1906.0,493.4 1922.8,493.4 1939.5,493.4 1956.3,493.4 1973.1,495.4 1989.9,509.5 2006.7,478.0 2023.4,495.0 2040.2,493.4 2057.0,493.4 2073.8,493.4" fill="none" stroke="#0000ff" stroke-width="2.3"/>
<path fill="#008000" d="M1205.0,487.2L1231.0,487.2L1218.0,505.8ZM1221.8,487.2L1247.8,487.2L1234.8,505.8ZM1238.6,487.2L1264.6,487.2L1251.6,505.8ZM1255.3,487.2L1281.3,487.2L1268.3,505.8ZM1272.1,487.2L1298.1,487.2L1285.1,505.8ZM1288.9,487.2L1314.9,487.2L1301.9,505.8ZM1305.7,487.2L1331.7,487.2L1318.7,505.8ZM1322.5,487.2L1348.5,487.2L1335.5,505.8ZM1339.2,487.1L1365.2,487.1L1352.2,505.7ZM1356.0,485.0L1382.0,485.0L1369.0,503.6ZM1372.8,491.5L1398.8,491.5L1385.8,510.1ZM1389.6,486.5L1415.6,486.5L1402.6,505.1ZM1406.4,481.9L1432.4,481.9L1419.4,500.5ZM1423.1,384.0L1449.1,384.0L1436.1,402.6ZM1439.9,583.0L1465.9,583.0L1452.9,601.6ZM1456.7,808.6L1482.7,808.6L1469.7,827.2ZM1473.5,231.8L1499.5,231.8L1486.5,250.4ZM1490.3,501.1L1516.3,501.1L1503.3,519.7ZM1507.0,456.9L1533.0,456.9L1520.0,475.5ZM1523.8,427.1L1549.8,427.1L1536.8,445.7ZM1540.6,437.0L1566.6,437.0L1553.6,455.6ZM1557.4,519.6L1583.4,519.6L1570.4,538.2ZM1574.2,473.9L1600.2,473.9L1587.2,492.5ZM1590.9,546.8L1616.9,546.8L1603.9,565.4ZM1607.7,485.4L1633.7,485.4L1620.7,504.0ZM1624.5,487.6L1650.5,487.6L1637.5,506.2ZM1641.3,486.7L1667.3,486.7L1654.3,505.3ZM1658.1,472.0L1684.1,472.0L1671.1,490.6ZM1674.8,508.9L1700.8,508.9L1687.8,527.5ZM1691.6,515.0L1717.6,515.0L1704.6,533.6ZM1708.4,452.8L1734.4,452.8L1721.4,471.4ZM1725.2,491.5L1751.2,491.5L1738.2,510.1ZM1742.0,487.6L1768.0,487.6L1755.0,506.2ZM1758.7,487.2L1784.7,487.2L1771.7,505.8ZM1775.5,491.9L1801.5,491.9L1788.5,510.5ZM1792.3,488.8L1818.3,488.8L1805.3,507.4ZM1809.1,487.2L1835.1,487.2L1822.1,505.8ZM1825.9,487.2L1851.9,487.2L1838.9,505.8ZM1842.6,487.2L1868.6,487.2L1855.6,505.8ZM1859.4,488.8L1885.4,488.8L1872.4,507.4ZM1876.2,485.2L1902.2,485.2L1889.2,503.8ZM1893.0,487.2L1919.0,487.2L1906.0,505.8ZM1909.8,487.2L1935.8,487.2L1922.8,505.8ZM1926.5,487.2L1952.5,487.2L1939.5,505.8ZM1943.3,487.2L1969.3,487.2L1956.3,505.8ZM1960.1,489.2L1986.1,489.2L1973.1,507.8ZM1976.9,503.3L2002.9,503.3L1989.9,521.9ZM1993.7,471.8L2019.7,471.8L2006.7,490.4ZM2010.4,488.8L2036.4,488.8L2023.4,507.4ZM2027.2,487.2L2053.2,487.2L2040.2,505.8ZM2044.0,487.2L2070.0,487.2L2057.0,505.8ZM2060.8,487.2L2086.8,487.2L2073.8,505.8Z"/>
<polyline points="1218.0,493.4 1234.8,493.4 1251.6,493.4 1268.3,493.4 1285.1,493.4 1301.9,493.4 1318.7,493.4 1335.5,493.4 1352.2,488.2 1369.0,503.1 1385.8,490.7 1402.6,490.7 1419.4,496.9 1436.1,456.7 1452.9,619.6 1469.7,513.1 1486.5,379.4 1503.3,460.8 1520.0,407.6 1536.8,554.5 1553.6,520.2 1570.4,533.3 1587.2,633.7 1603.9,369.5 1620.7,481.7 1637.5,489.5 1654.3,493.0 1671.1,492.6 1687.8,508.2 1704.6,465.1 1721.4,502.6 1738.2,498.7 1755.0,493.9 1771.7,495.6 1788.5,493.0 1805.3,493.4 1822.1,493.4 1838.9,493.4 1855.6,493.4 1872.4,493.4 1889.2,493.4 1906.0,493.4 1922.8,493.4 1939.5,493.4 1956.3,493.4 1973.1,493.4 1989.9,493.4 2006.7,493.4 2023.4,493.4 2040.2,493.4 2057.0,493.4 2073.8,493.4" fill="none" stroke="#000000" stroke-width="2.3"/>
<g fill="#a0a0a0"><ellipse cx="1218.0" cy="493.4" rx="11" ry="9.4"/><ellipse cx="1234.8" cy="493.4" rx="11" ry="9.4"/><ellipse cx="1251.6" cy="493.4" rx="11" ry="9.4"/><ellipse cx="1268.3" cy="493.4" rx="11" ry="9.4"/><ellipse cx="1285.1" cy="493.4" rx="11" ry="9.4"/><ellipse cx="1301.9" cy="493.4" rx="11" ry="9.4"/><ellipse cx="1318.7" cy="493.4" rx="11" ry="9.4"/><ellipse cx="1335.5" cy="493.4" rx="11" ry="9.4"/><ellipse cx="1352.2" cy="488.2" rx="11" ry="9.4"/><ellipse cx="1369.0" cy="503.1" rx="11" ry="9.4"/><ellipse cx="1385.8" cy="490.7" rx="11" ry="9.4"/><ellipse cx="1402.6" cy="490.7" rx="11" ry="9.4"/><ellipse cx="1419.4" cy="496.9" rx="11" ry="9.4"/><ellipse cx="1436.1" cy="456.7" rx="11" ry="9.4"/><ellipse cx="1452.9" cy="619.6" rx="11" ry="9.4"/><ellipse cx="1469.7" cy="513.1" rx="11" ry="9.4"/><ellipse cx="1486.5" cy="379.4" rx="11" ry="9.4"/><ellipse cx="1503.3" cy="460.8" rx="11" ry="9.4"/><ellipse cx="1520.0" cy="407.6" rx="11" ry="9.4"/><ellipse cx="1536.8" cy="554.5" rx="11" ry="9.4"/><ellipse cx="1553.6" cy="520.2" rx="11" ry="9.4"/><ellipse cx="1570.4" cy="533.3" rx="11" ry="9.4"/><ellipse cx="1587.2" cy="633.7" rx="11" ry="9.4"/><ellipse cx="1603.9" cy="369.5" rx="11" ry="9.4"/><ellipse cx="1620.7" cy="481.7" rx="11" ry="9.4"/><ellipse cx="1637.5" cy="489.5" rx="11" ry="9.4"/><ellipse cx="1654.3" cy="493.0" rx="11" ry="9.4"/><ellipse cx="1671.1" cy="492.6" rx="11" ry="9.4"/><ellipse cx="1687.8" cy="508.2" rx="11" ry="9.4"/><ellipse cx="1704.6" cy="465.1" rx="11" ry="9.4"/><ellipse cx="1721.4" cy="502.6" rx="11" ry="9.4"/><ellipse cx="1738.2" cy="498.7" rx="11" ry="9.4"/><ellipse cx="1755.0" cy="493.9" rx="11" ry="9.4"/><ellipse cx="1771.7" cy="495.6" rx="11" ry="9.4"/><ellipse cx="1788.5" cy="493.0" rx="11" ry="9.4"/><ellipse cx="1805.3" cy="493.4" rx="11" ry="9.4"/><ellipse cx="1822.1" cy="493.4" rx="11" ry="9.4"/><ellipse cx="1838.9" cy="493.4" rx="11" ry="9.4"/><ellipse cx="1855.6" cy="493.4" rx="11" ry="9.4"/><ellipse cx="1872.4" cy="493.4" rx="11" ry="9.4"/><ellipse cx="1889.2" cy="493.4" rx="11" ry="9.4"/><ellipse cx="1906.0" cy="493.4" rx="11" ry="9.4"/><ellipse cx="1922.8" cy="493.4" rx="11" ry="9.4"/><ellipse cx="1939.5" cy="493.4" rx="11" ry="9.4"/><ellipse cx="1956.3" cy="493.4" rx="11" ry="9.4"/><ellipse cx="1973.1" cy="493.4" rx="11" ry="9.4"/><ellipse cx="1989.9" cy="493.4" rx="11" ry="9.4"/><ellipse cx="2006.7" cy="493.4" rx="11" ry="9.4"/><ellipse cx="2023.4" cy="493.4" rx="11" ry="9.4"/><ellipse cx="2040.2" cy="493.4" rx="11" ry="9.4"/><ellipse cx="2057.0" cy="493.4" rx="11" ry="9.4"/><ellipse cx="2073.8" cy="493.4" rx="11" ry="9.4"/></g>
<rect x="1998.3" y="97.4" width="263.5" height="228.5" fill="none" stroke="#000" stroke-width="2.4"/>
<line x1="2003" y1="121.9" x2="2103" y2="121.9" stroke="#ff0000" stroke-width="2.3"/>
<path fill="#ff0000" d="M2052.9,109.8L2065.9,128.5L2039.9,128.5Z"/>
<text y="134.8" font-family="'Liberation Sans', Arial, sans-serif" font-size="39"><tspan x="2114.5 2143.9">Ac</tspan><tspan x="2165.2" y="147.9" font-size="22.3">k</tspan><tspan x="2177.5 2193.6 2218.3 2243.6" y="134.8">(up)</tspan></text>
<line x1="2003" y1="178.9" x2="2103" y2="178.9" stroke="#ff0000" stroke-width="2.3"/>
<ellipse cx="2052.9" cy="178.9" rx="11.4" ry="9.9" fill="#ff0000"/>
<text y="190.6" font-family="'Liberation Sans', Arial, sans-serif" font-size="39"><tspan x="2114.5 2143.4">As</tspan><tspan x="2165.2" y="203.7" font-size="22.3">k</tspan><tspan x="2177.5 2193.6 2218.3 2243.6" y="190.6">(up)</tspan></text>
<line x1="2003" y1="234.9" x2="2103" y2="234.9" stroke="#0000ff" stroke-width="2.3"/>
<path fill="#008000" d="M2039.9,228.3L2065.9,228.3L2052.9,248.1Z"/>
<text y="247.6" font-family="'Liberation Sans', Arial, sans-serif" font-size="39"><tspan x="2114.5 2143.9">Ac</tspan><tspan x="2165.2" y="260.7" font-size="22.3">k</tspan><tspan x="2177.5 2194.0 2217.6 2243.6" y="247.6">(dn)</tspan></text>
<line x1="2003" y1="290.8" x2="2103" y2="290.8" stroke="#000000" stroke-width="2.3"/>
<ellipse cx="2052.9" cy="290.8" rx="11.4" ry="9.9" fill="#a0a0a0"/>
<text y="302.7" font-family="'Liberation Sans', Arial, sans-serif" font-size="39"><tspan x="2114.5 2143.4">As</tspan><tspan x="2165.2" y="315.8" font-size="22.3">k</tspan><tspan x="2177.5 2194.0 2217.6 2243.6" y="302.7">(dn)</tspan></text>
</svg>
</body></html>
